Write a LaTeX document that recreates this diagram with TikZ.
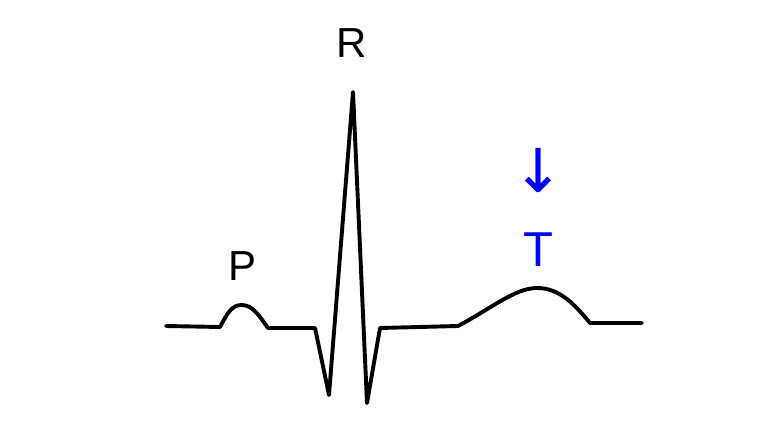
\documentclass[tikz,border=0pt]{standalone}
\usepackage{fontspec}
\setmainfont{Liberation Sans}
\newfontfamily\arrowfont{DejaVu Sans}[FakeBold=0.3]
\definecolor{tblue}{RGB}{0,0,255}
\begin{document}
\begin{tikzpicture}[x=1pt,y=-1pt,
  ecg/.style={line width=3.9pt,line join=round,line cap=round,black},
  lbl/.style={font=\fontsize{42}{42}\selectfont,anchor=base,inner sep=0pt},
  tlbl/.style={font=\fontsize{49}{49}\selectfont,anchor=base,inner sep=0pt,text=tblue},
  arr/.style={font=\arrowfont\fontsize{60}{60}\selectfont,anchor=center,inner sep=0pt,text=tblue}]
\useasboundingbox (0,0) rectangle (768,430);
\draw[ecg] (166,326) -- (220,327)
  .. controls (228,312) and (232,305) .. (242,305)
  .. controls (253,305) and (260,317) .. (268,328)
  -- (315,328) -- (329,395) -- (353,92) -- (367,403) -- (380,328) -- (458,326)
  .. controls (492,308) and (515,288) .. (537,288)
  .. controls (560,288) and (575,305) .. (590,323) -- (642,323);
\node[lbl] (P) at (243,280) {P};
\node[lbl] (R) at (352,58) {R};
\node[tlbl] (T) at (538,267) {T};
\node[arr] (A) at (538,170) {↓};
\end{tikzpicture}
\end{document}
